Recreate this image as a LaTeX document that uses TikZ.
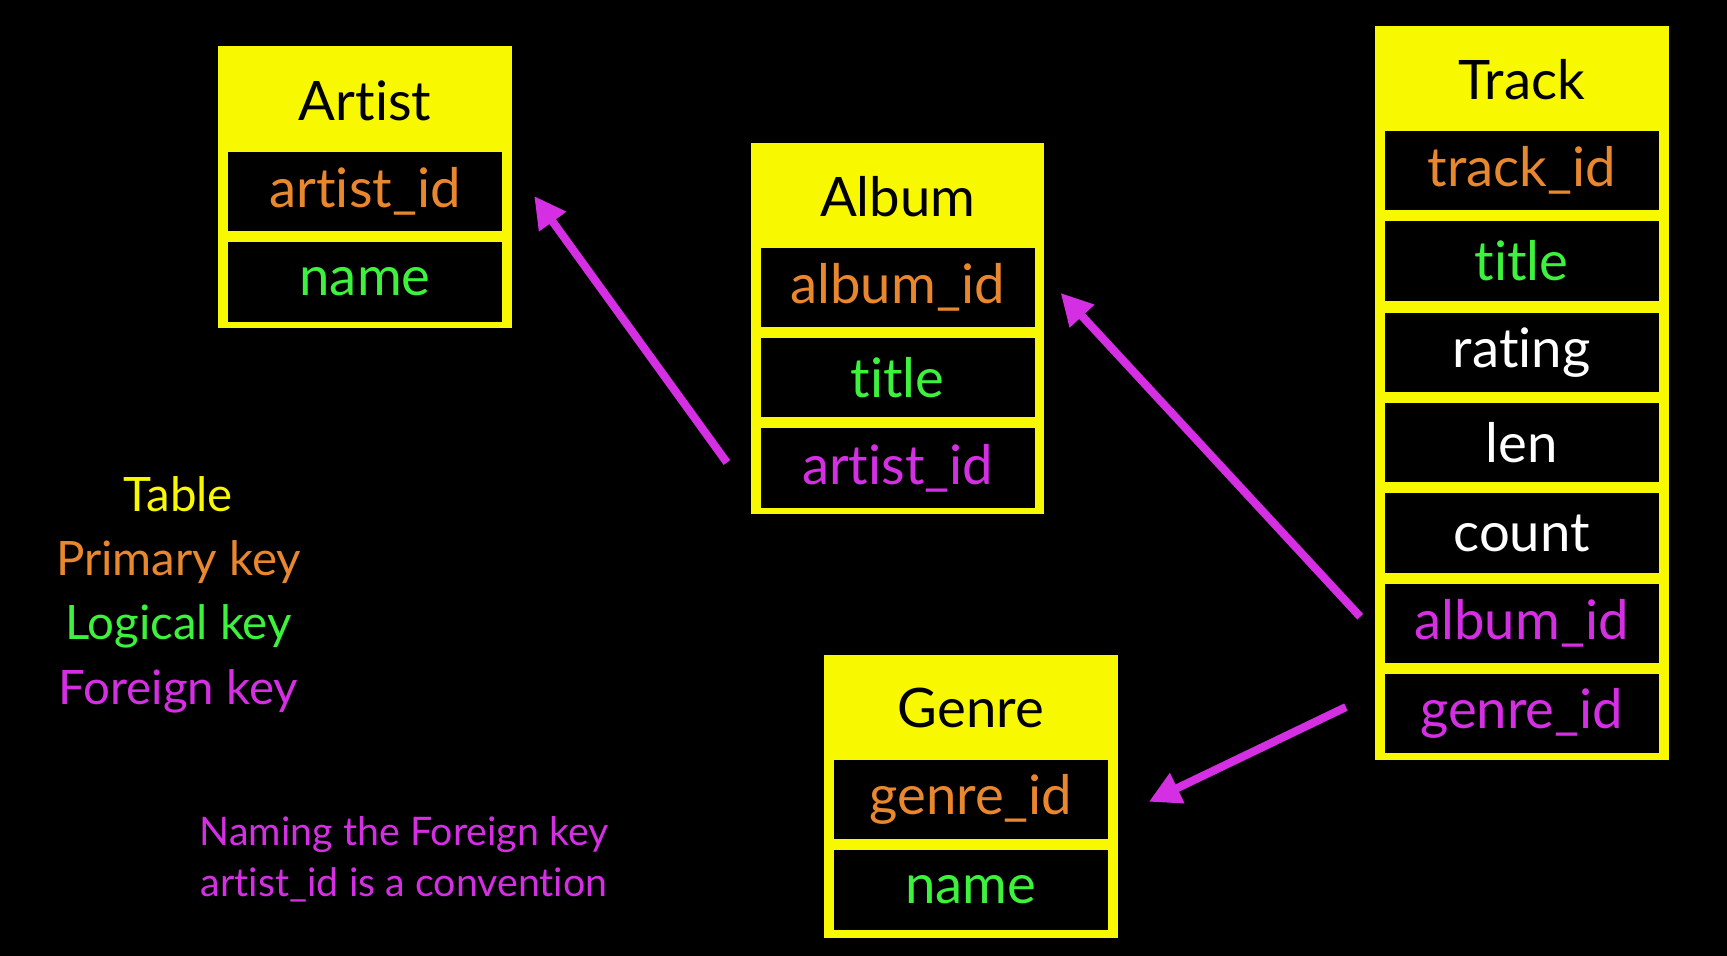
\documentclass[tikz,border=0pt]{standalone}
\usepackage{fontspec}
\setmainfont{Lato}[Ligatures={NoCommon,NoRequired,NoContextual}]
\usetikzlibrary{arrows.meta}
\definecolor{yel}{HTML}{F8F800}
\definecolor{pk}{HTML}{E8872E}
\definecolor{lk}{HTML}{3DF23D}
\definecolor{fk}{HTML}{D42FE2}
\begin{document}
\begin{tikzpicture}[x=0.011014cm,y=-0.011014cm,
  tbox/.style={fill=yel,draw=none},
  cell/.style={fill=black,minimum width=2.742cm,minimum height=0.793cm,inner sep=0pt,font=\fontsize{15.5}{17}\selectfont},
  ttl/.style={font=\fontsize{15.5}{17}\selectfont,text=black},
  fkarrow/.style={draw=fk,line width=2.3pt,-{Triangle[length=9pt,width=9pt]}},
  leg/.style={font=\fontsize{13.5}{15}\selectfont}]
\fill[black] (0,0) rectangle (1568,868);
\useasboundingbox (0,0) rectangle (1568,868);
% Artist
\fill[tbox] (198,42) rectangle (465,298);
\node[ttl] (artist) at (331.5,92) {Artist};
\node[cell,text=pk] (artistid) at (331.5,174) {artist\_id};
\node[cell,text=lk] (artistname) at (331.5,256) {name};
% Album
\fill[tbox] (682,130) rectangle (948,467);
\node[ttl] (album) at (815,179) {Album};
\node[cell,text=pk] (albumid) at (815,261) {album\_id};
\node[cell,text=lk] (albumtitle) at (815,343) {title};
\node[cell,text=fk] (albumartist) at (815,425) {artist\_id};
% Track
\fill[tbox] (1248,24) rectangle (1515,690);
\node[ttl] (track) at (1381.5,72) {Track};
\node[cell,text=pk] (trackid) at (1381.5,155) {track\_id};
\node[cell,text=lk] (tracktitle) at (1381.5,237) {title};
\node[cell,text=white] (rating) at (1381.5,320) {rating};
\node[cell,text=white] (len) at (1381.5,402) {len};
\node[cell,text=white] (count) at (1381.5,484) {count};
\node[cell,text=fk] (trackalbum) at (1381.5,566) {album\_id};
\node[cell,text=fk] (trackgenre) at (1381.5,648) {genre\_id};
% Genre
\fill[tbox] (748,595) rectangle (1015,852);
\node[ttl] (genre) at (881.5,643) {Genre};
\node[cell,text=pk] (genreid) at (881.5,726) {genre\_id};
\node[cell,text=lk] (genrename) at (881.5,808) {name};
% legend
\node[leg,text=yel] (lt) at (162,449) {Table};
\node[leg,text=pk] (lp) at (162,510) {Primary key};
\node[leg,text=lk] (ll) at (162,569) {Logical key};
\node[leg,text=fk] (lf) at (162,628) {Foreign key};
\node[text=fk,font=\fontsize{11.2}{14.5}\selectfont,align=center] (note) at (367,780) {Naming the Foreign key\\artist\_id is a convention};
% arrows
\coordinate (a1s) at (660,420); \coordinate (a1e) at (485,178);
\coordinate (a2s) at (1235,560); \coordinate (a2e) at (963,266);
\coordinate (a3s) at (1222,642); \coordinate (a3e) at (1043,728);
\draw[fkarrow] (a1s) -- (a1e);
\draw[fkarrow] (a2s) -- (a2e);
\draw[fkarrow] (a3s) -- (a3e);
\end{tikzpicture}
\end{document}
